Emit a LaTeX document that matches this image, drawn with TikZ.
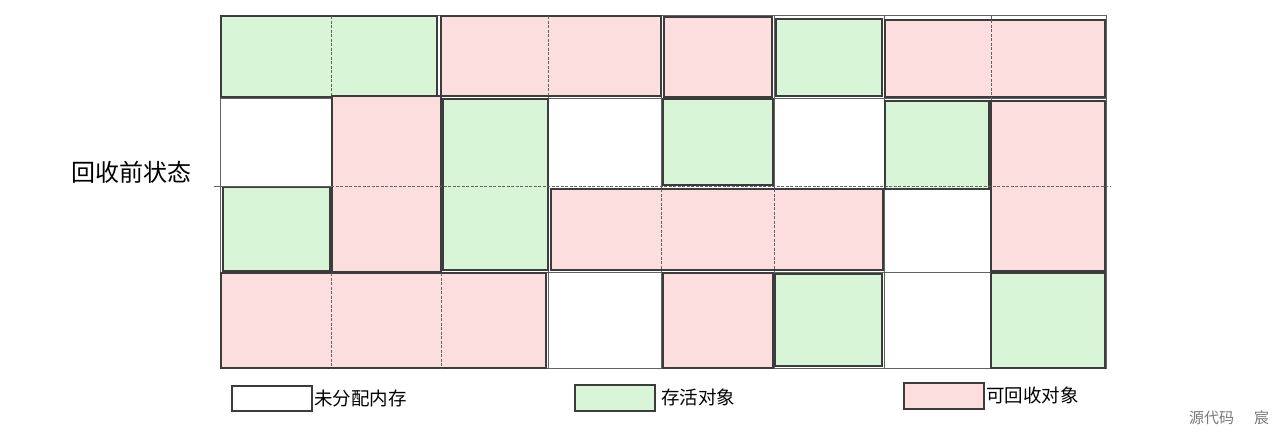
\documentclass[tikz,border=0pt]{standalone}
\usepackage{fontspec}
\newfontfamily\cjk{Noto Sans CJK SC}
\definecolor{grnfill}{RGB}{216,245,216}
\definecolor{pnkfill}{RGB}{252,222,222}
\definecolor{edge}{RGB}{60,60,60}
\definecolor{wm}{RGB}{120,120,120}
\tikzset{
  gridline/.style={draw=edge!80, line width=0.9pt},
  gblk/.style={fill=grnfill, draw=edge, line width=1.3pt},
  pblk/.style={fill=pnkfill, draw=edge, line width=1.3pt},
  wblk/.style={fill=white, draw=edge, line width=1.3pt},
  divider/.style={draw=edge!80, line width=0.8pt, dash pattern=on 3pt off 1.5pt},
  lbl/.style={font=\cjk\fontsize{18.5}{20}\selectfont, anchor=west, inner sep=0pt, text=black},
}
\begin{document}
\begin{tikzpicture}[x=1pt,y=-1pt]
\useasboundingbox (0,0) rectangle (1280,437);
% grid
\draw[gridline] (220,15) rectangle (1106,368);
\foreach \xx in {331,441,548,661,774,884,991} \draw[gridline] (\xx,15) -- (\xx,368);
\foreach \yy in {98,272} \draw[gridline] (220,\yy) -- (1106,\yy);
% row 0
\draw[gblk] (221,16) rectangle (437,97);
\draw[divider] (331,16) -- (331,97);
\draw[pblk] (441,16) rectangle (661,96);
\draw[divider] (548,16) -- (548,96);
\draw[pblk] (664,17) rectangle (772,97);
\draw[gblk] (776,19) rectangle (882,96);
\draw[pblk] (885,20) rectangle (1105,97);
\draw[divider] (991,20) -- (991,97);
% rows 1-2
\draw[pblk] (332,96) rectangle (441,272);
\draw[gblk] (443,99) rectangle (548,270);
\draw[gblk] (663,99) rectangle (773,185);
\draw[gblk] (885,101) rectangle (989,189);
\draw[pblk] (991,101) rectangle (1105,271);
\draw[gblk] (223,187) rectangle (330,271);
\draw[pblk] (551,189) rectangle (883,270);
\draw[divider] (661,189) -- (661,270);
\draw[divider] (774,189) -- (774,270);
% row 3
\draw[pblk] (221,273) rectangle (546,368);
\draw[divider] (331,273) -- (331,368);
\draw[divider] (441,273) -- (441,368);
\draw[pblk] (663,273) rectangle (773,368);
\draw[gblk] (775,274) rectangle (882,366);
\draw[gblk] (991,273) rectangle (1105,368);
% middle line
\draw[divider] (214,186) -- (1110,186);
\draw[gridline] (214,186) -- (332,186);
% title
\node[lbl, font=\cjk\fontsize{24}{26}\selectfont] (title) at (71,172) {回收前状态};
% legend
\draw[wblk] (232,386) rectangle (312,411);
\node[lbl] (lfree) at (314,398) {未分配内存};
\draw[gblk] (575,385) rectangle (655,411);
\node[lbl] (llive) at (661,397) {存活对象};
\draw[pblk] (904,383) rectangle (984,409);
\node[lbl] (lrec) at (986,395) {可回收对象};
% watermark
\node[lbl, font=\cjk\fontsize{15}{17}\selectfont, text=wm] (wmark) at (1189,418) {源代码\hspace{20pt}宸};
\end{tikzpicture}
\end{document}
